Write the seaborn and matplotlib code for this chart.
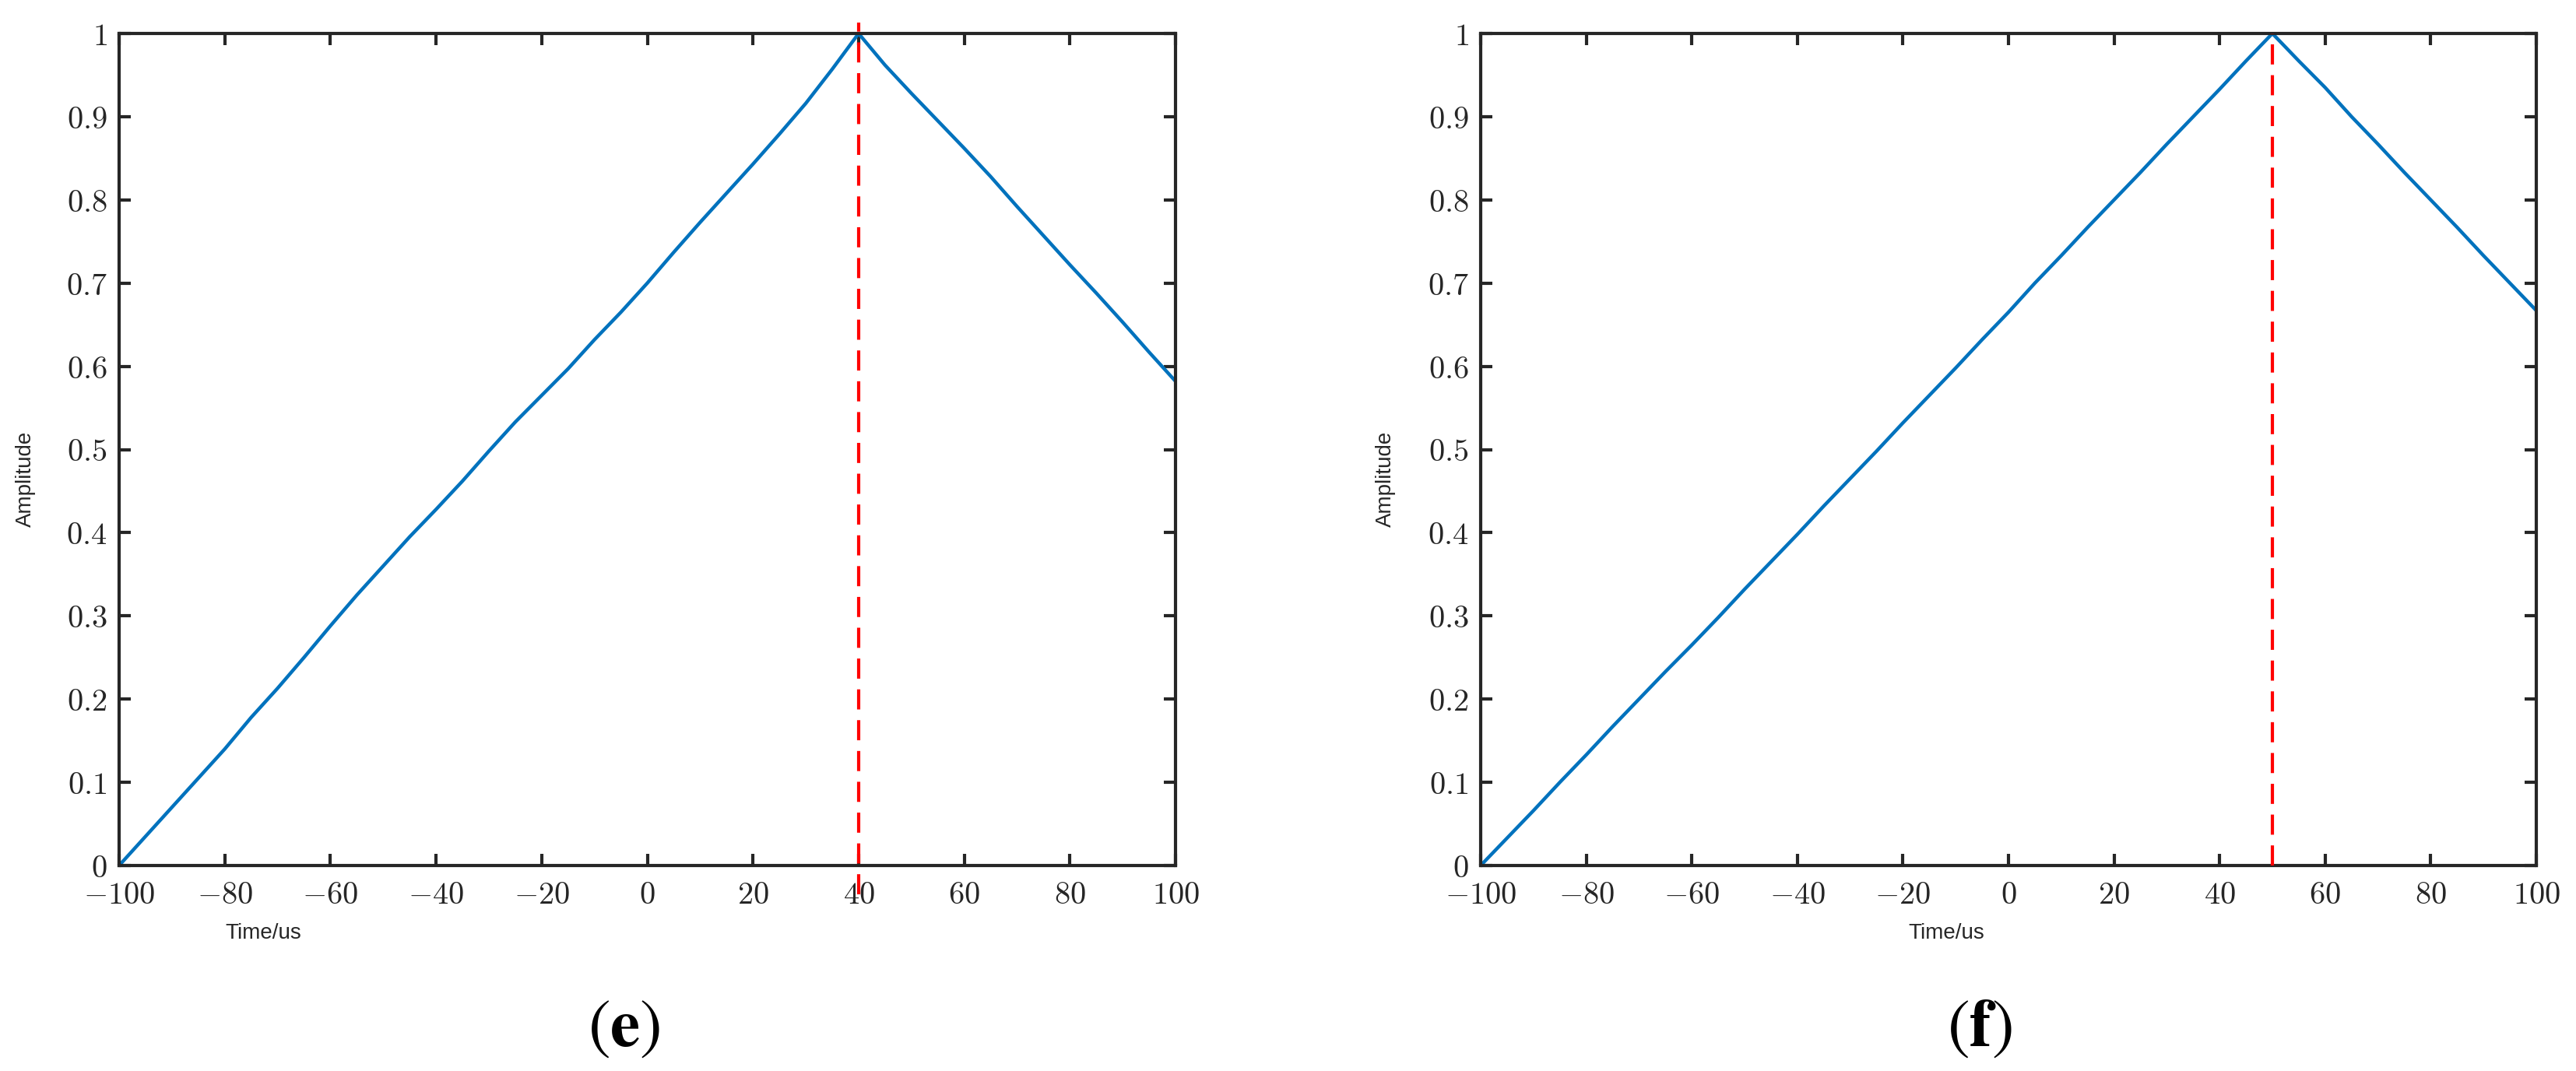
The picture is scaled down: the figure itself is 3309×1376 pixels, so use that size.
import pandas as pd
import matplotlib
matplotlib.use("Agg")
import matplotlib.pyplot as plt
from matplotlib.ticker import FixedLocator, FuncFormatter
import seaborn as sns

# ----------------------------
# Data
# ----------------------------

time_us = [-100, -95, -90, -85, -80, -75, -70, -65, -60, -55, -50,
           -45, -40, -35, -30, -25, -20, -15, -10, -5, 0,
           5, 10, 15, 20, 25, 30, 35, 40, 45, 50,
           55, 60, 65, 70, 75, 80, 85, 90, 95, 100]

amp_e = [0.000, 0.035, 0.070, 0.105, 0.140, 0.178, 0.213, 0.250, 0.288, 0.325, 0.360,
         0.395, 0.428, 0.462, 0.498, 0.533, 0.565, 0.597, 0.632, 0.665, 0.700,
         0.737, 0.773, 0.808, 0.843, 0.879, 0.916, 0.957, 1.000, 0.962, 0.928,
         0.895, 0.862, 0.828, 0.792, 0.757, 0.722, 0.688, 0.653, 0.617, 0.582]

amp_f = [0.000, 0.033, 0.066, 0.100, 0.133, 0.167, 0.200, 0.233, 0.265, 0.298, 0.332,
         0.365, 0.398, 0.432, 0.465, 0.498, 0.532, 0.565, 0.598, 0.632, 0.665,
         0.700, 0.733, 0.767, 0.800, 0.833, 0.867, 0.900, 0.933, 0.967, 1.000,
         0.967, 0.935, 0.900, 0.867, 0.833, 0.800, 0.767, 0.733, 0.700, 0.667]

peak_e = 40
peak_f = 50

x_ticks = [-100, -80, -60, -40, -20, 0, 20, 40, 60, 80, 100]
y_ticks = [0, 0.1, 0.2, 0.3, 0.4, 0.5, 0.6, 0.7, 0.8, 0.9, 1]

panel_labels = ["e", "f"]

# ----------------------------
# Style
# ----------------------------

sns.set_theme(style="ticks")
plt.rcParams["mathtext.fontset"] = "cm"
plt.rcParams["font.family"] = ["Liberation Sans", "DejaVu Sans"]

AX_COLOR = "#262626"
LINE_BLUE = "#0072BD"
W, H = 3309, 1376

fig = plt.figure(figsize=(W / 100, H / 100), dpi=100)

panels = [
    dict(amp=amp_e, peak=peak_e, left=153, right=1510, red_lo=-0.035, red_hi=1.013,
         ylab_x=33, xlab_x=338, tag_x=802),
    dict(amp=amp_f, peak=peak_f, left=1902, right=3258, red_lo=0.0, red_hi=1.0,
         ylab_x=1780, xlab_x=2500, tag_x=2543),
]

top_px, bottom_px = 43, 1112

for label, p in zip(panel_labels, panels):
    ax = fig.add_axes([
        p["left"] / W,
        1 - bottom_px / H,
        (p["right"] - p["left"]) / W,
        (bottom_px - top_px) / H,
    ])

    df = pd.DataFrame({"Time": time_us, "Amplitude": p["amp"]})
    sns.lineplot(data=df, x="Time", y="Amplitude", ax=ax,
                 color=LINE_BLUE, linewidth=3.2)

    ax.axvline(p["peak"], ymin=p["red_lo"], ymax=p["red_hi"],
               color="#FF0000", linewidth=3.0, dashes=(6.2, 3.3),
               clip_on=False, zorder=5)

    ax.set_xlim(-100, 100)
    ax.set_ylim(0, 1)
    ax.xaxis.set_major_locator(FixedLocator(x_ticks))
    ax.yaxis.set_major_locator(FixedLocator(y_ticks))
    ax.xaxis.set_major_formatter(FuncFormatter(lambda v, pos: f"${v:g}$"))
    ax.yaxis.set_major_formatter(FuncFormatter(lambda v, pos: f"${v:g}$"))

    ax.tick_params(direction="in", length=11, width=3.0, colors=AX_COLOR,
                   labelsize=29, top=True, right=True)
    ax.tick_params(axis="x", pad=14)
    ax.tick_params(axis="y", pad=11)
    for s in ax.spines.values():
        s.set_linewidth(3.0)
        s.set_color(AX_COLOR)
        s.set_visible(True)

    ax.set_xlabel("")
    ax.set_ylabel("")

    fig.text(p["ylab_x"] / W, 1 - 615 / H, "Amplitude", rotation=90,
             ha="center", va="center", fontsize=20, color=AX_COLOR)
    fig.text(p["xlab_x"] / W, 1 - 1199 / H, "Time/us",
             ha="center", va="center", fontsize=20, color=AX_COLOR)
    fig.text(p["tag_x"] / W, 1 - 1322 / H, rf"$(\mathbf{{{label}}})$",
             ha="center", va="center", fontsize=62, color="black",
             math_fontfamily="stix")

fig.savefig("out.png", dpi=100, facecolor="white")
plt.close(fig)
